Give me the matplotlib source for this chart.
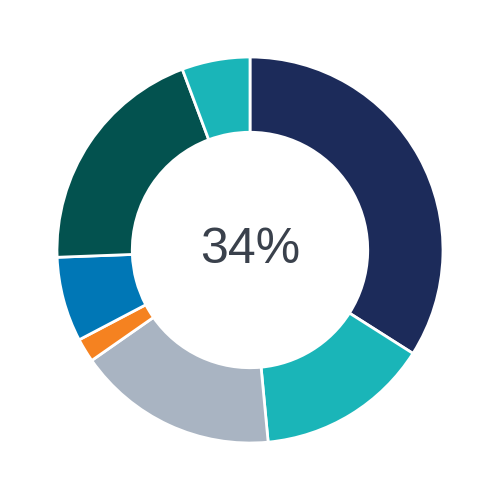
import matplotlib.pyplot as plt

labels = ["A", "B", "C", "D", "E", "F", "G"]
values = [34, 14.5, 16.8, 2.0, 7.1, 19.9, 5.7]
colors = ["#1c2b5a", "#1ab5b8", "#a9b4c2", "#f58220", "#0077b6", "#03524f", "#1ab5b8"]
center_label = "34%"

fig = plt.figure(figsize=(5, 5), dpi=100)
ax = fig.add_axes([0, 0, 1, 1])
ax.pie(
    values,
    colors=colors,
    startangle=90,
    counterclock=False,
    radius=1.0,
    wedgeprops=dict(width=0.39, edgecolor="white", linewidth=2),
)
ax.text(0, 0.0, center_label, ha="center", va="center",
        fontsize=36, color="#3a414c", family="Liberation Sans")
lim = 250 / 193
ax.set_xlim(-lim, lim)
ax.set_ylim(-lim, lim)
ax.set_aspect("equal")
ax.axis("off")
fig.savefig("out.png", dpi=100)
